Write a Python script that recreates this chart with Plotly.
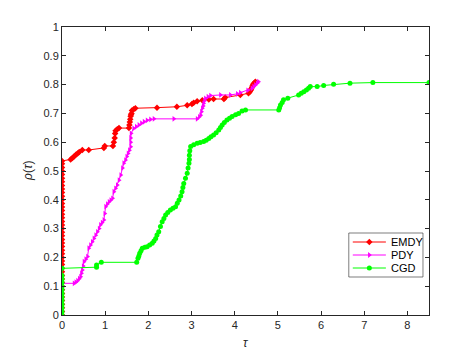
import plotly.graph_objects as go

# EMDY (red, diamonds)
emdy_tau = [0, 0, 0, 0, 0, 0, 0, 0, 0, 0, 0, 0, 0, 0, 0, 0, 0, 0, 0, 0, 0, 0,
            0, 0, 0, 0, 0, 0, 0, 0, 0, 0, 0, 0, 0, 0, 0, 0, 0, 0, 0, 0, 0, 0,
            0.2, 0.24, 0.28, 0.32, 0.36, 0.40, 0.47, 0.62, 0.97, 0.99, 1.18, 1.20, 1.22, 1.23, 1.24,
            1.28, 1.32, 1.55, 1.56, 1.57, 1.58, 1.59, 1.6, 1.61, 1.62, 1.66,
            1.70, 2.2, 2.66, 2.90, 3.01, 3.05, 3.13, 3.25, 3.40, 3.51, 3.75, 3.78, 4.13, 4.32,
            4.35, 4.37, 4.38, 4.40, 4.41, 4.43, 4.44, 4.46, 4.48]
emdy_rho = [0.0, 0.0125, 0.025, 0.0375, 0.05, 0.0625, 0.075, 0.0875, 0.1, 0.1125, 0.125, 0.1375,
            0.15, 0.1625, 0.175, 0.1875, 0.2, 0.2125, 0.225, 0.2375, 0.25, 0.2625, 0.275, 0.2875,
            0.3, 0.3125, 0.325, 0.3375, 0.35, 0.3625, 0.375, 0.3875, 0.4, 0.4125, 0.425, 0.4375,
            0.45, 0.4625, 0.475, 0.4875, 0.5, 0.5125, 0.525, 0.535,
            0.54, 0.545, 0.55, 0.556, 0.561, 0.566, 0.573, 0.573, 0.58, 0.587, 0.587, 0.60, 0.615,
            0.63, 0.64, 0.645, 0.649, 0.649, 0.66, 0.67, 0.68, 0.69, 0.695, 0.70, 0.71, 0.714,
            0.718, 0.72, 0.723, 0.728, 0.733, 0.737, 0.742, 0.746, 0.748, 0.75, 0.75, 0.755, 0.764,
            0.77, 0.775, 0.78, 0.785, 0.79, 0.795, 0.80, 0.803, 0.806, 0.81]

# PDY (magenta, right triangles)
pdy_tau = [0, 0.28, 0.32, 0.36, 0.40, 0.43, 0.45, 0.47, 0.49, 0.51, 0.55, 0.59, 0.62, 0.66, 0.70,
           0.74, 0.78, 0.82, 0.86, 0.89, 0.93, 0.97, 0.99, 1.01, 1.05, 1.09, 1.13, 1.17, 1.20, 1.24,
           1.28, 1.32, 1.36, 1.40, 1.43, 1.47, 1.50, 1.53, 1.56, 1.59, 1.59, 1.59, 1.60, 1.66, 1.72,
           1.78, 1.84, 1.90, 1.97, 2.05, 2.13, 2.59, 3.13, 3.18, 3.21, 3.23, 3.25, 3.27, 3.28, 3.30,
           3.32, 3.38, 3.44, 3.67, 3.90, 4.06, 4.13, 4.30, 4.40, 4.44, 4.48, 4.52, 4.55]
pdy_rho = [0.11, 0.11, 0.114, 0.119, 0.126, 0.133, 0.145, 0.156, 0.17, 0.185, 0.194, 0.203, 0.232,
           0.243, 0.254, 0.266, 0.277, 0.289, 0.30, 0.313, 0.321, 0.330, 0.352, 0.376, 0.385, 0.393,
           0.399, 0.405, 0.428, 0.44, 0.451, 0.468, 0.486, 0.51, 0.527, 0.538, 0.55, 0.561, 0.572,
           0.584, 0.60, 0.615, 0.631, 0.648, 0.654, 0.66, 0.666, 0.671, 0.676, 0.679, 0.681, 0.681,
           0.681, 0.688, 0.694, 0.706, 0.718, 0.726, 0.735, 0.744, 0.752, 0.758, 0.762, 0.764, 0.764,
           0.768, 0.772, 0.78, 0.787, 0.793, 0.799, 0.805, 0.81]

# CGD (green, circles)
cgd_tau = [0, 0, 0, 0, 0, 0, 0, 0, 0, 0, 0, 0, 0, 0.80, 0.80, 0.91, 1.73, 1.76, 1.78, 1.80, 1.83,
           1.86, 1.92, 1.97, 2.03, 2.09, 2.13, 2.17, 2.20, 2.24, 2.28, 2.32, 2.36, 2.40, 2.45, 2.51,
           2.57, 2.63, 2.67, 2.71, 2.75, 2.78, 2.80, 2.82, 2.86, 2.90, 2.92, 2.94, 2.95, 2.95, 2.96,
           2.98, 3.05, 3.13, 3.20, 3.28, 3.34, 3.40, 3.45, 3.51, 3.57, 3.63, 3.67, 3.71, 3.76, 3.82,
           3.88, 3.94, 4.02, 4.09, 4.17, 4.25, 5.02, 5.04, 5.06, 5.10, 5.13, 5.23, 5.48, 5.54, 5.60,
           5.66, 5.71, 5.75, 5.91, 6.06, 6.29, 6.67, 7.20, 8.5]
cgd_rho = [0.0, 0.0125, 0.025, 0.0375, 0.05, 0.0625, 0.075, 0.0875, 0.1, 0.1125, 0.125, 0.1375,
           0.162, 0.166, 0.174, 0.183, 0.183, 0.197, 0.205, 0.214, 0.223, 0.232, 0.235, 0.237,
           0.243, 0.249, 0.257, 0.266, 0.278, 0.289, 0.307, 0.324, 0.335, 0.347, 0.356, 0.365,
           0.371, 0.376, 0.388, 0.399, 0.413, 0.428, 0.443, 0.457, 0.475, 0.492, 0.51, 0.527, 0.54,
           0.555, 0.57, 0.585, 0.591, 0.596, 0.599, 0.602, 0.607, 0.613, 0.619, 0.625, 0.633, 0.642,
           0.651, 0.660, 0.668, 0.677, 0.683, 0.689, 0.695, 0.70, 0.708, 0.712, 0.712, 0.72, 0.729,
           0.738, 0.747, 0.753, 0.764, 0.77, 0.775, 0.781, 0.787, 0.793, 0.793, 0.797, 0.801, 0.805,
           0.807, 0.807]

series_names = ["EMDY", "PDY", "CGD"]
series_colors = ["#FF0000", "#FF00FF", "#00FF00"]
series_symbols = ["diamond", "triangle-right", "circle"]
x_ticks = [0, 1, 2, 3, 4, 5, 6, 7, 8]
y_ticks = [0, 0.1, 0.2, 0.3, 0.4, 0.5, 0.6, 0.7, 0.8, 0.9, 1]

data = [(emdy_tau, emdy_rho), (pdy_tau, pdy_rho), (cgd_tau, cgd_rho)]

fig = go.Figure()
for (xs, ys), name, col, sym in zip(data, series_names, series_colors, series_symbols):
    fig.add_trace(go.Scatter(x=xs, y=ys, name=name, mode="lines+markers",
                             line=dict(color=col, width=1),
                             marker=dict(symbol=sym, size=5, color=col),
                             showlegend=False))

# Manual legend (MATLAB style), glyphs on an overlay axis in [0,1] units
W, H = 366.0, 288.0
box_x0, box_x1 = (348 - 62) / W, (422 - 62) / W
box_y1, box_y0 = (315 - 233) / H, (315 - 277) / H
row_y = [(315 - 242) / H, (315 - 255) / H, (315 - 268) / H]
line_x0, line_x1 = (352 - 62) / W, (385 - 62) / W
mark_x = (368.5 - 62) / W
text_x = (388 - 62) / W

shapes = [dict(type="rect", xref="paper", yref="paper", x0=box_x0, x1=box_x1, y0=box_y0, y1=box_y1,
               line=dict(color="#262626", width=0.6), fillcolor="white", layer="below")]
annotations = []
for ry, name, col, sym in zip(row_y, series_names, series_colors, series_symbols):
    fig.add_trace(go.Scatter(x=[line_x0, mark_x, line_x1], y=[ry, ry, ry], xaxis="x2", yaxis="y2",
                             mode="lines", line=dict(color=col, width=1),
                             showlegend=False, hoverinfo="skip"))
    fig.add_trace(go.Scatter(x=[mark_x], y=[ry], xaxis="x2", yaxis="y2", mode="markers",
                             marker=dict(symbol=sym, size=5, color=col), showlegend=False,
                             hoverinfo="skip"))
    annotations.append(dict(xref="paper", yref="paper", x=text_x, y=ry, text=name, showarrow=False,
                            xanchor="left", yanchor="middle", font=dict(size=11, color="#000000")))

annotations.append(dict(xref="paper", yref="paper", x=(245 - 62) / W, y=(315 - 343) / H,
                        text="<i>τ</i>", showarrow=False, xanchor="center", yanchor="middle",
                        font=dict(size=12, color="#262626")))
annotations.append(dict(xref="paper", yref="paper", x=(28 - 62) / W, y=0.5,
                        text="<i>ρ</i>(<i>τ</i>)", showarrow=False, xanchor="center", yanchor="middle",
                        textangle=-90, font=dict(size=12, color="#262626")))

axis_common = dict(showgrid=False, zeroline=False, ticks="inside", ticklen=4, automargin=False,
                   tickcolor="#262626", linecolor="#262626", linewidth=1, mirror="ticks",
                   showline=True, tickfont=dict(size=11, color="#262626"))

fig.update_layout(
    width=474, height=355,
    margin=dict(l=62, r=45, t=27, b=40),
    paper_bgcolor="white", plot_bgcolor="white",
    font=dict(family="Liberation Sans, Arial, sans-serif", color="#262626"),
    xaxis=dict(range=[0, 8.5], tickvals=x_ticks, **axis_common),
    yaxis=dict(range=[0, 1], tickvals=y_ticks, ticktext=[str(v) for v in y_ticks], **axis_common),
    xaxis2=dict(range=[0, 1], overlaying="x", visible=False, automargin=False),
    yaxis2=dict(range=[0, 1], overlaying="y", visible=False, automargin=False),
    shapes=shapes,
    annotations=annotations,
    showlegend=False,
)

fig.write_html("out.html", config={"displayModeBar": False},
               post_script="document.body.style.margin='0';")
